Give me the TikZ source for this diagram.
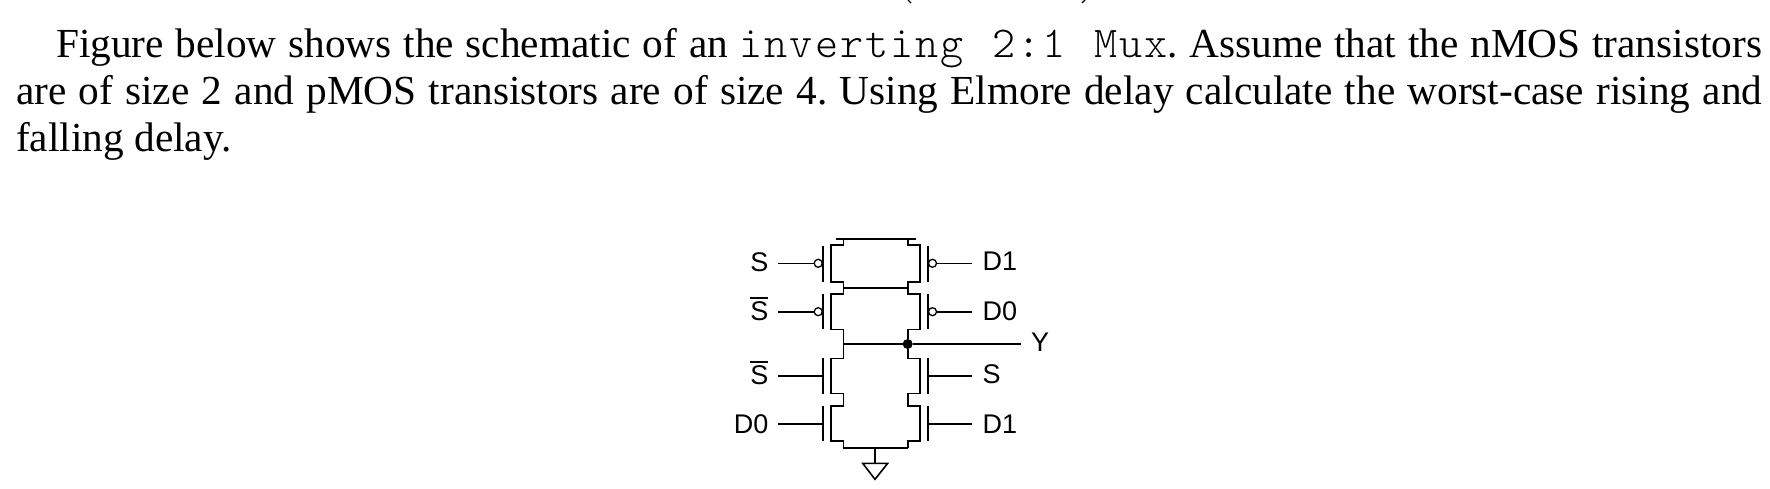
\documentclass[tikz,border=0pt]{standalone}
\usepackage{fontspec}
\setmainfont{Liberation Serif}
\newfontfamily\labelfont{Liberation Sans}
\newfontfamily\muxfont[LetterSpace=4.5]{Latin Modern Mono Light}
\newcommand{\barS}{\vbox{\hrule height 1.3pt\kern 2.6pt\hbox{S}}}
\tikzset{
  wire/.style={line width=1.6pt,line join=miter},
  lab/.style={font=\labelfont\fontsize{27}{30}\selectfont,inner sep=0pt,text height=18.8pt,text depth=0pt},
  bubble/.style={circle,draw,line width=1.3pt,fill=white,minimum size=8pt,inner sep=0pt},
  dot/.style={circle,fill=black,minimum size=10pt,inner sep=0pt},
  para/.style={inner sep=0pt,anchor=north west,font=\fontsize{41.3}{47}\selectfont\frenchspacing}
}
\begin{document}
\begin{tikzpicture}[x=1pt,y=-1pt]
\useasboundingbox (0,0) rectangle (1770,488);
\node[para] (text) at (16,28) {\vbox{\baselineskip=47pt\lineskiplimit=-100pt
\hbox to 1746pt{\kern 40pt Figure below shows the schematic of an {\muxfont\fontsize{44}{47}\selectfont inverting 2:1 Mux}. Assume that the nMOS transistors}
\hbox to 1746pt{are of size 2 and pMOS transistors are of size 4. Using Elmore delay calculate the worst-case rising and}
\hbox{falling delay.}}};
% clipped brackets of a line above
\draw[line width=1.2pt] (908,0) -- (911,3);
\draw[line width=1.2pt] (1085,0) -- (1082,3);

% rails and junction coordinates
\coordinate (railTL) at (835.7,238.7);
\coordinate (railTR) at (916,238.7);
\coordinate (midL) at (843.3,287.7);
\coordinate (midR) at (907.7,287.7);
\coordinate (yL) at (843.3,344);
\node[dot] (yn) at (907.7,344) {};
\coordinate (botL) at (843.3,448);
\coordinate (botR) at (907.7,448);
\coordinate (gnd) at (875,448);
\coordinate (gndt) at (875,463.3);
\coordinate (yend) at (1021,344);

\draw[wire] (railTL) -- (railTR);
\draw[wire] (midL) -- (midR);
\draw[wire] (yL) -- (yn) -- (yend);
\draw[wire] (botL) -- (botR);
\draw[wire] (gnd) -- (gndt);
\draw[wire] (862.7,463.3) -- (887.7,463.3) -- (875,479.3) -- cycle;

% left column drain/source path
\draw[wire] (843.3,238.7) |- (830.7,245) -- (830.7,281.7) -| (midL);
\draw[wire] (midL) |- (830.7,294) -- (830.7,329.3) -| (yL);
\draw[wire] (yL) |- (830.7,358.3) -- (830.7,393.3) -| (843.3,406);
\draw[wire] (843.3,393.3) |- (830.7,406) -- (830.7,440.7) -| (botL);
% right column drain/source path
\draw[wire] (907.7,238.7) |- (920,245) -- (920,281.7) -| (midR);
\draw[wire] (midR) |- (920,294) -- (920,329.3) -| (yn);
\draw[wire] (yn) |- (920,358.3) -- (920,393.3) -| (907.7,406);
\draw[wire] (907.7,393.3) |- (920,406) -- (920,440.7) -| (botR);

% gate bars
\foreach \t/\b in {246/281.7,294/329.3,358.3/393.7,406/441}{
  \draw[wire] (823,\t) -- (823,\b);
  \draw[wire] (927.7,\t) -- (927.7,\b);
}
% pMOS gates
\node[bubble] (bl1) at (818.2,263.3) {};
\node[bubble] (bl2) at (818.2,311.7) {};
\node[bubble] (br1) at (932.5,263.3) {};
\node[bubble] (br2) at (932.5,311.7) {};
\coordinate (nl1) at (823,375.7);
\coordinate (nl2) at (823,424);
\coordinate (nr1) at (927.7,375.7);
\coordinate (nr2) at (927.7,424);

% labels
\node[lab,anchor=east] (ls1) at (768.5,262.3) {S};
\node[lab,anchor=east] (ls2) at (768.5,310.7) {\barS};
\node[lab,anchor=east] (ls3) at (768.5,374.7) {\barS};
\node[lab,anchor=east] (ld0) at (768.5,424) {D0};
\node[lab,anchor=west] (rd1) at (982.5,261.3) {D1};
\node[lab,anchor=west] (rd0) at (982.5,310.7) {D0};
\node[lab,anchor=west] (rs) at (982.5,374) {S};
\node[lab,anchor=west] (rd1b) at (982.5,424.5) {D1};
\node[lab,anchor=west] (ylab) at (1031,342) {Y};

\coordinate (il1) at (778.3,263.3);
\coordinate (il2) at (778.3,311.7);
\coordinate (il3) at (778.3,375.7);
\coordinate (il4) at (778.3,424);
\coordinate (ir1) at (972,263.3);
\coordinate (ir2) at (972,311.7);
\coordinate (ir3) at (972,375.7);
\coordinate (ir4) at (972,424);
\draw[wire] (il1) -- (bl1);
\draw[wire] (il2) -- (bl2);
\draw[wire] (il3) -- (nl1);
\draw[wire] (il4) -- (nl2);
\draw[wire] (ir1) -- (br1);
\draw[wire] (ir2) -- (br2);
\draw[wire] (ir3) -- (nr1);
\draw[wire] (ir4) -- (nr2);
\end{tikzpicture}
\end{document}
